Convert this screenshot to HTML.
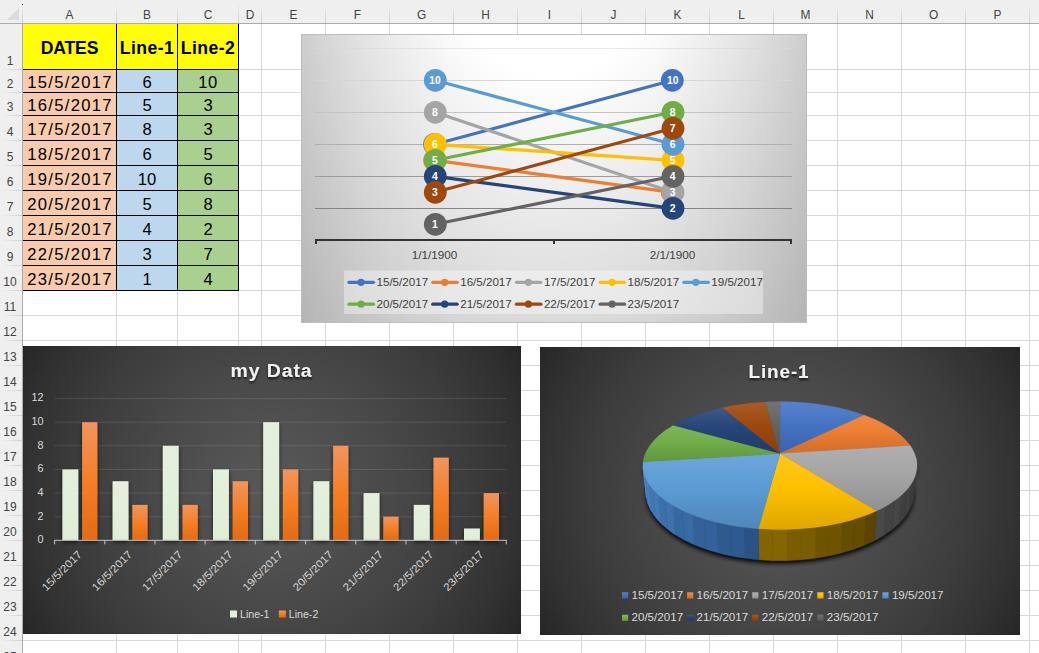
<!DOCTYPE html>
<html><head><meta charset="utf-8"><title>sheet</title><style>
html,body{margin:0;padding:0;background:#fff;}
body{width:1039px;height:653px;overflow:hidden;position:relative;font-family:"Liberation Sans", sans-serif;}
.abs{position:absolute;}
.cell{position:absolute;box-sizing:border-box;text-align:center;white-space:nowrap;overflow:hidden;color:#000;}
svg{position:absolute;left:0;top:0;}
svg text{font-family:"Liberation Sans", sans-serif;}
</style></head><body>
<svg width="1039" height="653" viewBox="0 0 1039 653" shape-rendering="crispEdges">
<defs><linearGradient id="hsep" x1="0" y1="0" x2="0" y2="1"><stop offset="0" stop-color="#efefef"/><stop offset="1" stop-color="#cfcfcf"/></linearGradient>
<linearGradient id="rsep" x1="0" y1="0" x2="1" y2="0"><stop offset="0" stop-color="#efefef"/><stop offset="1" stop-color="#cfcfcf"/></linearGradient></defs>
<rect x="0" y="0" width="1039" height="653" fill="#fff"/>
<rect x="116" y="24" width="1" height="629" fill="#d9d9d9"/>
<rect x="177" y="24" width="1" height="629" fill="#d9d9d9"/>
<rect x="238" y="24" width="1" height="629" fill="#d9d9d9"/>
<rect x="261" y="24" width="1" height="629" fill="#d9d9d9"/>
<rect x="325" y="24" width="1" height="629" fill="#d9d9d9"/>
<rect x="389" y="24" width="1" height="629" fill="#d9d9d9"/>
<rect x="453" y="24" width="1" height="629" fill="#d9d9d9"/>
<rect x="517" y="24" width="1" height="629" fill="#d9d9d9"/>
<rect x="581" y="24" width="1" height="629" fill="#d9d9d9"/>
<rect x="645" y="24" width="1" height="629" fill="#d9d9d9"/>
<rect x="709" y="24" width="1" height="629" fill="#d9d9d9"/>
<rect x="773" y="24" width="1" height="629" fill="#d9d9d9"/>
<rect x="837" y="24" width="1" height="629" fill="#d9d9d9"/>
<rect x="901" y="24" width="1" height="629" fill="#d9d9d9"/>
<rect x="965" y="24" width="1" height="629" fill="#d9d9d9"/>
<rect x="1029" y="24" width="1" height="629" fill="#d9d9d9"/>
<rect x="23" y="69" width="1016" height="1" fill="#d9d9d9"/>
<rect x="23" y="92" width="1016" height="1" fill="#d9d9d9"/>
<rect x="23" y="115" width="1016" height="1" fill="#d9d9d9"/>
<rect x="23" y="140" width="1016" height="1" fill="#d9d9d9"/>
<rect x="23" y="165" width="1016" height="1" fill="#d9d9d9"/>
<rect x="23" y="190" width="1016" height="1" fill="#d9d9d9"/>
<rect x="23" y="215" width="1016" height="1" fill="#d9d9d9"/>
<rect x="23" y="240" width="1016" height="1" fill="#d9d9d9"/>
<rect x="23" y="265" width="1016" height="1" fill="#d9d9d9"/>
<rect x="23" y="290" width="1016" height="1" fill="#d9d9d9"/>
<rect x="23" y="315" width="1016" height="1" fill="#d9d9d9"/>
<rect x="23" y="340" width="1016" height="1" fill="#d9d9d9"/>
<rect x="23" y="365" width="1016" height="1" fill="#d9d9d9"/>
<rect x="23" y="390" width="1016" height="1" fill="#d9d9d9"/>
<rect x="23" y="415" width="1016" height="1" fill="#d9d9d9"/>
<rect x="23" y="440" width="1016" height="1" fill="#d9d9d9"/>
<rect x="23" y="465" width="1016" height="1" fill="#d9d9d9"/>
<rect x="23" y="490" width="1016" height="1" fill="#d9d9d9"/>
<rect x="23" y="515" width="1016" height="1" fill="#d9d9d9"/>
<rect x="23" y="540" width="1016" height="1" fill="#d9d9d9"/>
<rect x="23" y="565" width="1016" height="1" fill="#d9d9d9"/>
<rect x="23" y="590" width="1016" height="1" fill="#d9d9d9"/>
<rect x="23" y="615" width="1016" height="1" fill="#d9d9d9"/>
<rect x="23" y="640" width="1016" height="1" fill="#d9d9d9"/>
<rect x="0" y="0" width="1039" height="23" fill="#efefef"/>
<rect x="0" y="23" width="22" height="630" fill="#efefef"/>
<rect x="116" y="3" width="1" height="20" fill="url(#hsep)"/>
<rect x="177" y="3" width="1" height="20" fill="url(#hsep)"/>
<rect x="238" y="3" width="1" height="20" fill="url(#hsep)"/>
<rect x="261" y="3" width="1" height="20" fill="url(#hsep)"/>
<rect x="325" y="3" width="1" height="20" fill="url(#hsep)"/>
<rect x="389" y="3" width="1" height="20" fill="url(#hsep)"/>
<rect x="453" y="3" width="1" height="20" fill="url(#hsep)"/>
<rect x="517" y="3" width="1" height="20" fill="url(#hsep)"/>
<rect x="581" y="3" width="1" height="20" fill="url(#hsep)"/>
<rect x="645" y="3" width="1" height="20" fill="url(#hsep)"/>
<rect x="709" y="3" width="1" height="20" fill="url(#hsep)"/>
<rect x="773" y="3" width="1" height="20" fill="url(#hsep)"/>
<rect x="837" y="3" width="1" height="20" fill="url(#hsep)"/>
<rect x="901" y="3" width="1" height="20" fill="url(#hsep)"/>
<rect x="965" y="3" width="1" height="20" fill="url(#hsep)"/>
<rect x="1029" y="3" width="1" height="20" fill="url(#hsep)"/>
<rect x="2" y="69" width="20" height="1" fill="url(#rsep)"/>
<rect x="2" y="92" width="20" height="1" fill="url(#rsep)"/>
<rect x="2" y="115" width="20" height="1" fill="url(#rsep)"/>
<rect x="2" y="140" width="20" height="1" fill="url(#rsep)"/>
<rect x="2" y="165" width="20" height="1" fill="url(#rsep)"/>
<rect x="2" y="190" width="20" height="1" fill="url(#rsep)"/>
<rect x="2" y="215" width="20" height="1" fill="url(#rsep)"/>
<rect x="2" y="240" width="20" height="1" fill="url(#rsep)"/>
<rect x="2" y="265" width="20" height="1" fill="url(#rsep)"/>
<rect x="2" y="290" width="20" height="1" fill="url(#rsep)"/>
<rect x="2" y="315" width="20" height="1" fill="url(#rsep)"/>
<rect x="2" y="340" width="20" height="1" fill="url(#rsep)"/>
<rect x="2" y="365" width="20" height="1" fill="url(#rsep)"/>
<rect x="2" y="390" width="20" height="1" fill="url(#rsep)"/>
<rect x="2" y="415" width="20" height="1" fill="url(#rsep)"/>
<rect x="2" y="440" width="20" height="1" fill="url(#rsep)"/>
<rect x="2" y="465" width="20" height="1" fill="url(#rsep)"/>
<rect x="2" y="490" width="20" height="1" fill="url(#rsep)"/>
<rect x="2" y="515" width="20" height="1" fill="url(#rsep)"/>
<rect x="2" y="540" width="20" height="1" fill="url(#rsep)"/>
<rect x="2" y="565" width="20" height="1" fill="url(#rsep)"/>
<rect x="2" y="590" width="20" height="1" fill="url(#rsep)"/>
<rect x="2" y="615" width="20" height="1" fill="url(#rsep)"/>
<rect x="2" y="640" width="20" height="1" fill="url(#rsep)"/>
<rect x="0" y="23" width="1039" height="1" fill="#ababab"/>
<rect x="22" y="3" width="1" height="20" fill="url(#hsep)"/>
<rect x="22" y="23" width="1" height="630" fill="#ababab"/>
<polygon points="19,8 19,20 7,20" fill="#dcdcdc" shape-rendering="geometricPrecision"/>
<rect x="22" y="4" width="1" height="1" fill="#000"/>
</svg>
<svg width="1039" height="653" viewBox="0 0 1039 653">
<text x="69.5" y="18.8" font-size="11.9" fill="#444" text-anchor="middle">A</text>
<text x="147.0" y="18.8" font-size="11.9" fill="#444" text-anchor="middle">B</text>
<text x="208.0" y="18.8" font-size="11.9" fill="#444" text-anchor="middle">C</text>
<text x="250.0" y="18.8" font-size="11.9" fill="#444" text-anchor="middle">D</text>
<text x="293.5" y="18.8" font-size="11.9" fill="#444" text-anchor="middle">E</text>
<text x="357.5" y="18.8" font-size="11.9" fill="#444" text-anchor="middle">F</text>
<text x="421.5" y="18.8" font-size="11.9" fill="#444" text-anchor="middle">G</text>
<text x="485.5" y="18.8" font-size="11.9" fill="#444" text-anchor="middle">H</text>
<text x="549.5" y="18.8" font-size="11.9" fill="#444" text-anchor="middle">I</text>
<text x="613.5" y="18.8" font-size="11.9" fill="#444" text-anchor="middle">J</text>
<text x="677.5" y="18.8" font-size="11.9" fill="#444" text-anchor="middle">K</text>
<text x="741.5" y="18.8" font-size="11.9" fill="#444" text-anchor="middle">L</text>
<text x="805.5" y="18.8" font-size="11.9" fill="#444" text-anchor="middle">M</text>
<text x="869.5" y="18.8" font-size="11.9" fill="#444" text-anchor="middle">N</text>
<text x="933.5" y="18.8" font-size="11.9" fill="#444" text-anchor="middle">O</text>
<text x="997.5" y="18.8" font-size="11.9" fill="#444" text-anchor="middle">P</text>
<text x="10" y="64.6" font-size="12" fill="#444" text-anchor="middle">1</text>
<text x="10" y="87.6" font-size="12" fill="#444" text-anchor="middle">2</text>
<text x="10" y="110.6" font-size="12" fill="#444" text-anchor="middle">3</text>
<text x="10" y="135.6" font-size="12" fill="#444" text-anchor="middle">4</text>
<text x="10" y="160.6" font-size="12" fill="#444" text-anchor="middle">5</text>
<text x="10" y="185.6" font-size="12" fill="#444" text-anchor="middle">6</text>
<text x="10" y="210.6" font-size="12" fill="#444" text-anchor="middle">7</text>
<text x="10" y="235.6" font-size="12" fill="#444" text-anchor="middle">8</text>
<text x="10" y="260.6" font-size="12" fill="#444" text-anchor="middle">9</text>
<text x="10" y="285.6" font-size="12" fill="#444" text-anchor="middle">10</text>
<text x="10" y="310.6" font-size="12" fill="#444" text-anchor="middle">11</text>
<text x="10" y="335.6" font-size="12" fill="#444" text-anchor="middle">12</text>
<text x="10" y="360.6" font-size="12" fill="#444" text-anchor="middle">13</text>
<text x="10" y="385.6" font-size="12" fill="#444" text-anchor="middle">14</text>
<text x="10" y="410.6" font-size="12" fill="#444" text-anchor="middle">15</text>
<text x="10" y="435.6" font-size="12" fill="#444" text-anchor="middle">16</text>
<text x="10" y="460.6" font-size="12" fill="#444" text-anchor="middle">17</text>
<text x="10" y="485.6" font-size="12" fill="#444" text-anchor="middle">18</text>
<text x="10" y="510.6" font-size="12" fill="#444" text-anchor="middle">19</text>
<text x="10" y="535.6" font-size="12" fill="#444" text-anchor="middle">20</text>
<text x="10" y="560.6" font-size="12" fill="#444" text-anchor="middle">21</text>
<text x="10" y="585.6" font-size="12" fill="#444" text-anchor="middle">22</text>
<text x="10" y="610.6" font-size="12" fill="#444" text-anchor="middle">23</text>
<text x="10" y="635.6" font-size="12" fill="#444" text-anchor="middle">24</text>
<text x="10" y="660.6" font-size="12" fill="#444" text-anchor="middle">25</text>
</svg>
<div class="abs" style="left:23px;top:24px;width:216px;height:46px;background:#ffff00"></div>
<div class="abs" style="left:23px;top:70px;width:94px;height:221px;background:#f8cbad"></div>
<div class="abs" style="left:117px;top:70px;width:61px;height:221px;background:#bdd7ee"></div>
<div class="abs" style="left:178px;top:70px;width:61px;height:221px;background:#a9d08e"></div>
<div class="abs" style="left:116px;top:24px;width:1px;height:267px;background:#000"></div>
<div class="abs" style="left:177px;top:24px;width:1px;height:267px;background:#000"></div>
<div class="abs" style="left:238px;top:24px;width:1px;height:267px;background:#000"></div>
<div class="abs" style="left:23px;top:69px;width:216px;height:1px;background:#000"></div>
<div class="abs" style="left:23px;top:92px;width:216px;height:1px;background:#000"></div>
<div class="abs" style="left:23px;top:115px;width:216px;height:1px;background:#000"></div>
<div class="abs" style="left:23px;top:140px;width:216px;height:1px;background:#000"></div>
<div class="abs" style="left:23px;top:165px;width:216px;height:1px;background:#000"></div>
<div class="abs" style="left:23px;top:190px;width:216px;height:1px;background:#000"></div>
<div class="abs" style="left:23px;top:215px;width:216px;height:1px;background:#000"></div>
<div class="abs" style="left:23px;top:240px;width:216px;height:1px;background:#000"></div>
<div class="abs" style="left:23px;top:265px;width:216px;height:1px;background:#000"></div>
<div class="abs" style="left:23px;top:290px;width:216px;height:1px;background:#000"></div>
<div class="cell" style="left:23px;top:24px;width:93px;height:45px;line-height:45px;font-weight:bold;font-size:17.6px;padding-top:2px;letter-spacing:-0.15px;">DATES</div>
<div class="cell" style="left:117px;top:24px;width:60px;height:45px;line-height:45px;font-weight:bold;font-size:17.6px;padding-top:2px;letter-spacing:0.45px;">Line-1</div>
<div class="cell" style="left:178px;top:24px;width:60px;height:45px;line-height:45px;font-weight:bold;font-size:17.6px;padding-top:2px;letter-spacing:0.45px;">Line-2</div>
<div class="cell" style="left:23px;top:70px;width:93px;height:22px;line-height:22px;font-size:16.6px;padding-top:2.0px;letter-spacing:1.3px;padding-left:1px;">15/5/2017</div>
<div class="cell" style="left:117px;top:70px;width:60px;height:22px;line-height:22px;font-size:16.6px;padding-top:2.0px;">6</div>
<div class="cell" style="left:178px;top:70px;width:60px;height:22px;line-height:22px;font-size:16.6px;padding-top:2.0px;letter-spacing:0.6px;">10</div>
<div class="cell" style="left:23px;top:93px;width:93px;height:22px;line-height:22px;font-size:16.6px;padding-top:2.0px;letter-spacing:1.3px;padding-left:1px;">16/5/2017</div>
<div class="cell" style="left:117px;top:93px;width:60px;height:22px;line-height:22px;font-size:16.6px;padding-top:2.0px;">5</div>
<div class="cell" style="left:178px;top:93px;width:60px;height:22px;line-height:22px;font-size:16.6px;padding-top:2.0px;">3</div>
<div class="cell" style="left:23px;top:116px;width:93px;height:24px;line-height:24px;font-size:16.6px;padding-top:2.0px;letter-spacing:1.3px;padding-left:1px;">17/5/2017</div>
<div class="cell" style="left:117px;top:116px;width:60px;height:24px;line-height:24px;font-size:16.6px;padding-top:2.0px;">8</div>
<div class="cell" style="left:178px;top:116px;width:60px;height:24px;line-height:24px;font-size:16.6px;padding-top:2.0px;">3</div>
<div class="cell" style="left:23px;top:141px;width:93px;height:24px;line-height:24px;font-size:16.6px;padding-top:2.0px;letter-spacing:1.3px;padding-left:1px;">18/5/2017</div>
<div class="cell" style="left:117px;top:141px;width:60px;height:24px;line-height:24px;font-size:16.6px;padding-top:2.0px;">6</div>
<div class="cell" style="left:178px;top:141px;width:60px;height:24px;line-height:24px;font-size:16.6px;padding-top:2.0px;">5</div>
<div class="cell" style="left:23px;top:166px;width:93px;height:24px;line-height:24px;font-size:16.6px;padding-top:2.0px;letter-spacing:1.3px;padding-left:1px;">19/5/2017</div>
<div class="cell" style="left:117px;top:166px;width:60px;height:24px;line-height:24px;font-size:16.6px;padding-top:2.0px;">10</div>
<div class="cell" style="left:178px;top:166px;width:60px;height:24px;line-height:24px;font-size:16.6px;padding-top:2.0px;">6</div>
<div class="cell" style="left:23px;top:191px;width:93px;height:24px;line-height:24px;font-size:16.6px;padding-top:2.0px;letter-spacing:1.3px;padding-left:1px;">20/5/2017</div>
<div class="cell" style="left:117px;top:191px;width:60px;height:24px;line-height:24px;font-size:16.6px;padding-top:2.0px;">5</div>
<div class="cell" style="left:178px;top:191px;width:60px;height:24px;line-height:24px;font-size:16.6px;padding-top:2.0px;">8</div>
<div class="cell" style="left:23px;top:216px;width:93px;height:24px;line-height:24px;font-size:16.6px;padding-top:2.0px;letter-spacing:1.3px;padding-left:1px;">21/5/2017</div>
<div class="cell" style="left:117px;top:216px;width:60px;height:24px;line-height:24px;font-size:16.6px;padding-top:2.0px;">4</div>
<div class="cell" style="left:178px;top:216px;width:60px;height:24px;line-height:24px;font-size:16.6px;padding-top:2.0px;">2</div>
<div class="cell" style="left:23px;top:241px;width:93px;height:24px;line-height:24px;font-size:16.6px;padding-top:2.0px;letter-spacing:1.3px;padding-left:1px;">22/5/2017</div>
<div class="cell" style="left:117px;top:241px;width:60px;height:24px;line-height:24px;font-size:16.6px;padding-top:2.0px;">3</div>
<div class="cell" style="left:178px;top:241px;width:60px;height:24px;line-height:24px;font-size:16.6px;padding-top:2.0px;">7</div>
<div class="cell" style="left:23px;top:266px;width:93px;height:24px;line-height:24px;font-size:16.6px;padding-top:2.0px;letter-spacing:1.3px;padding-left:1px;">23/5/2017</div>
<div class="cell" style="left:117px;top:266px;width:60px;height:24px;line-height:24px;font-size:16.6px;padding-top:2.0px;">1</div>
<div class="cell" style="left:178px;top:266px;width:60px;height:24px;line-height:24px;font-size:16.6px;padding-top:2.0px;">4</div>
<div class="abs" style="left:301px;top:34px;width:506px;height:289px;box-sizing:border-box;border:1px solid #bdbdbd;background:linear-gradient(to right,rgba(0,0,0,0.06) 0%,rgba(0,0,0,0.025) 12%,rgba(0,0,0,0) 30%,rgba(0,0,0,0) 70%,rgba(0,0,0,0.025) 88%,rgba(0,0,0,0.06) 100%),radial-gradient(ellipse 381px 695px at 50% -231px,#fff 0%,#fff 39%,#bfbfbf 100%)"></div>
<div class="abs" style="left:23px;top:346px;width:498px;height:288px;background:radial-gradient(circle farthest-corner at 50% 50%,#595959 0.0%,#565656 8.3%,#535353 16.7%,#505050 25.0%,#4c4c4c 33.3%,#494949 41.7%,#454545 50.0%,#414141 58.3%,#3d3d3d 66.7%,#383838 75.0%,#333333 83.3%,#2d2d2d 91.7%,#262626 100.0%)"></div>
<div class="abs" style="left:540px;top:347px;width:480px;height:288px;background:radial-gradient(circle farthest-corner at 50% 50%,#595959 0.0%,#565656 8.3%,#535353 16.7%,#505050 25.0%,#4c4c4c 33.3%,#494949 41.7%,#454545 50.0%,#414141 58.3%,#3d3d3d 66.7%,#383838 75.0%,#333333 83.3%,#2d2d2d 91.7%,#262626 100.0%)"></div>
<svg width="1039" height="653" viewBox="0 0 1039 653">
<defs>
<filter id="sh" x="-30%" y="-30%" width="160%" height="160%"><feGaussianBlur in="SourceAlpha" stdDeviation="2.2"/><feOffset dx="0" dy="2" result="o"/><feComponentTransfer><feFuncA type="linear" slope="0.63"/></feComponentTransfer><feMerge><feMergeNode/><feMergeNode in="SourceGraphic"/></feMerge></filter>
<filter id="tsh" x="-10%" y="-30%" width="120%" height="180%"><feGaussianBlur in="SourceAlpha" stdDeviation="1.2"/><feOffset dx="0" dy="1.5"/><feComponentTransfer><feFuncA type="linear" slope="0.7"/></feComponentTransfer><feMerge><feMergeNode/><feMergeNode in="SourceGraphic"/></feMerge></filter>
<linearGradient id="gL2" x1="0" y1="0" x2="0" y2="1"><stop offset="0" stop-color="#f1955e"/><stop offset="0.5" stop-color="#f57e26"/><stop offset="1" stop-color="#e26b12"/></linearGradient>
<linearGradient id="gL1" x1="0" y1="0" x2="0" y2="1"><stop offset="0" stop-color="#e4f0dd"/><stop offset="0.5" stop-color="#e2efda"/><stop offset="1" stop-color="#dfedd6"/></linearGradient>
</defs>
<rect x="315" y="48" width="477" height="1" fill="#d9d9d9" fill-opacity="0.6" shape-rendering="crispEdges"/>
<rect x="315" y="80" width="477" height="1" fill="#d6d6d6" shape-rendering="crispEdges"/>
<rect x="315" y="112" width="477" height="1" fill="#c4c4c4" shape-rendering="crispEdges"/>
<rect x="315" y="144" width="477" height="1" fill="#b0b0b0" shape-rendering="crispEdges"/>
<rect x="315" y="176" width="477" height="1" fill="#9c9c9c" shape-rendering="crispEdges"/>
<rect x="315" y="208" width="477" height="1" fill="#858585" shape-rendering="crispEdges"/>
<line x1="435.0" y1="144.3" x2="672.7" y2="80.3" stroke="#4472c4" stroke-width="3.2" stroke-linecap="round"/>
<circle cx="434.6" cy="144.3" r="11.4" fill="#4472c4"/>
<text x="435.0" y="148.1" font-size="10.4" font-weight="bold" fill="#fff" text-anchor="middle">6</text>
<circle cx="672.3" cy="80.3" r="11.4" fill="#4472c4"/>
<text x="672.7" y="84.1" font-size="10.4" font-weight="bold" fill="#fff" text-anchor="middle" textLength="11.4" lengthAdjust="spacingAndGlyphs">10</text>
<line x1="435.0" y1="160.3" x2="672.7" y2="192.3" stroke="#ed7d31" stroke-width="3.2" stroke-linecap="round"/>
<circle cx="434.6" cy="160.3" r="11.4" fill="#ed7d31"/>
<text x="435.0" y="164.1" font-size="10.4" font-weight="bold" fill="#fff" text-anchor="middle">5</text>
<circle cx="672.3" cy="192.3" r="11.4" fill="#ed7d31"/>
<text x="672.7" y="196.1" font-size="10.4" font-weight="bold" fill="#fff" text-anchor="middle">3</text>
<line x1="435.0" y1="112.3" x2="672.7" y2="192.3" stroke="#a5a5a5" stroke-width="3.2" stroke-linecap="round"/>
<circle cx="435.3" cy="112.3" r="11.4" fill="#a5a5a5"/>
<text x="435.0" y="116.1" font-size="10.4" font-weight="bold" fill="#fff" text-anchor="middle">8</text>
<circle cx="673.0" cy="192.3" r="11.4" fill="#a5a5a5"/>
<text x="672.7" y="196.1" font-size="10.4" font-weight="bold" fill="#fff" text-anchor="middle">3</text>
<line x1="435.0" y1="144.3" x2="672.7" y2="160.3" stroke="#ffc000" stroke-width="3.2" stroke-linecap="round"/>
<circle cx="435.3" cy="144.3" r="11.4" fill="#ffc000"/>
<text x="435.0" y="148.1" font-size="10.4" font-weight="bold" fill="#fff" text-anchor="middle">6</text>
<circle cx="673.0" cy="160.3" r="11.4" fill="#ffc000"/>
<text x="672.7" y="164.1" font-size="10.4" font-weight="bold" fill="#fff" text-anchor="middle">5</text>
<line x1="435.0" y1="80.3" x2="672.7" y2="144.3" stroke="#5b9bd5" stroke-width="3.2" stroke-linecap="round"/>
<circle cx="435.3" cy="80.3" r="11.4" fill="#5b9bd5"/>
<text x="435.0" y="84.1" font-size="10.4" font-weight="bold" fill="#fff" text-anchor="middle" textLength="11.4" lengthAdjust="spacingAndGlyphs">10</text>
<circle cx="673.0" cy="144.3" r="11.4" fill="#5b9bd5"/>
<text x="672.7" y="148.1" font-size="10.4" font-weight="bold" fill="#fff" text-anchor="middle">6</text>
<line x1="435.0" y1="160.3" x2="672.7" y2="112.3" stroke="#70ad47" stroke-width="3.2" stroke-linecap="round"/>
<circle cx="435.3" cy="160.3" r="11.4" fill="#70ad47"/>
<text x="435.0" y="164.1" font-size="10.4" font-weight="bold" fill="#fff" text-anchor="middle">5</text>
<circle cx="673.0" cy="112.3" r="11.4" fill="#70ad47"/>
<text x="672.7" y="116.1" font-size="10.4" font-weight="bold" fill="#fff" text-anchor="middle">8</text>
<line x1="435.0" y1="176.3" x2="672.7" y2="208.3" stroke="#264478" stroke-width="3.2" stroke-linecap="round"/>
<circle cx="435.3" cy="176.3" r="11.4" fill="#264478"/>
<text x="435.0" y="180.1" font-size="10.4" font-weight="bold" fill="#fff" text-anchor="middle">4</text>
<circle cx="673.0" cy="208.3" r="11.4" fill="#264478"/>
<text x="672.7" y="212.1" font-size="10.4" font-weight="bold" fill="#fff" text-anchor="middle">2</text>
<line x1="435.0" y1="192.3" x2="672.7" y2="128.3" stroke="#9e480e" stroke-width="3.2" stroke-linecap="round"/>
<circle cx="435.3" cy="192.3" r="11.4" fill="#9e480e"/>
<text x="435.0" y="196.1" font-size="10.4" font-weight="bold" fill="#fff" text-anchor="middle">3</text>
<circle cx="673.0" cy="128.3" r="11.4" fill="#9e480e"/>
<text x="672.7" y="132.1" font-size="10.4" font-weight="bold" fill="#fff" text-anchor="middle">7</text>
<line x1="435.0" y1="224.3" x2="672.7" y2="176.3" stroke="#636363" stroke-width="3.2" stroke-linecap="round"/>
<circle cx="435.3" cy="224.3" r="11.4" fill="#636363"/>
<text x="435.0" y="228.1" font-size="10.4" font-weight="bold" fill="#fff" text-anchor="middle">1</text>
<circle cx="673.0" cy="176.3" r="11.4" fill="#636363"/>
<text x="672.7" y="180.1" font-size="10.4" font-weight="bold" fill="#fff" text-anchor="middle">4</text>
<g shape-rendering="crispEdges" fill="#333333"><rect x="315" y="239" width="477" height="2"/><rect x="315" y="239" width="2" height="5"/><rect x="553" y="239" width="2" height="5"/><rect x="790" y="239" width="2" height="5"/></g>
<text x="434.6" y="259" font-size="10.8" fill="#404040" text-anchor="middle" textLength="45.5" lengthAdjust="spacingAndGlyphs">1/1/1900</text>
<text x="672.5" y="259" font-size="10.8" fill="#404040" text-anchor="middle" textLength="45.5" lengthAdjust="spacingAndGlyphs">2/1/1900</text>
<rect x="344" y="270.5" width="419" height="43.5" fill="#ffffff" fill-opacity="0.39"/>
<line x1="349.0" y1="282.3" x2="373.5" y2="282.3" stroke="#4472c4" stroke-width="3.2" stroke-linecap="round"/>
<circle cx="361.0" cy="282.3" r="3.6" fill="#4472c4"/>
<text x="376.5" y="285.5" font-size="10.8" fill="#404040" textLength="51.6" lengthAdjust="spacingAndGlyphs">15/5/2017</text>
<line x1="432.7" y1="282.3" x2="457.2" y2="282.3" stroke="#ed7d31" stroke-width="3.2" stroke-linecap="round"/>
<circle cx="444.7" cy="282.3" r="3.6" fill="#ed7d31"/>
<text x="460.2" y="285.5" font-size="10.8" fill="#404040" textLength="51.6" lengthAdjust="spacingAndGlyphs">16/5/2017</text>
<line x1="516.4" y1="282.3" x2="540.9" y2="282.3" stroke="#a5a5a5" stroke-width="3.2" stroke-linecap="round"/>
<circle cx="528.4" cy="282.3" r="3.6" fill="#a5a5a5"/>
<text x="543.9" y="285.5" font-size="10.8" fill="#404040" textLength="51.6" lengthAdjust="spacingAndGlyphs">17/5/2017</text>
<line x1="600.1" y1="282.3" x2="624.6" y2="282.3" stroke="#ffc000" stroke-width="3.2" stroke-linecap="round"/>
<circle cx="612.1" cy="282.3" r="3.6" fill="#ffc000"/>
<text x="627.6" y="285.5" font-size="10.8" fill="#404040" textLength="51.6" lengthAdjust="spacingAndGlyphs">18/5/2017</text>
<line x1="683.8" y1="282.3" x2="708.3" y2="282.3" stroke="#5b9bd5" stroke-width="3.2" stroke-linecap="round"/>
<circle cx="695.8" cy="282.3" r="3.6" fill="#5b9bd5"/>
<text x="711.3" y="285.5" font-size="10.8" fill="#404040" textLength="51.6" lengthAdjust="spacingAndGlyphs">19/5/2017</text>
<line x1="349.0" y1="304.2" x2="373.5" y2="304.2" stroke="#70ad47" stroke-width="3.2" stroke-linecap="round"/>
<circle cx="361.0" cy="304.2" r="3.6" fill="#70ad47"/>
<text x="376.5" y="308.0" font-size="10.8" fill="#404040" textLength="51.6" lengthAdjust="spacingAndGlyphs">20/5/2017</text>
<line x1="432.7" y1="304.2" x2="457.2" y2="304.2" stroke="#264478" stroke-width="3.2" stroke-linecap="round"/>
<circle cx="444.7" cy="304.2" r="3.6" fill="#264478"/>
<text x="460.2" y="308.0" font-size="10.8" fill="#404040" textLength="51.6" lengthAdjust="spacingAndGlyphs">21/5/2017</text>
<line x1="516.4" y1="304.2" x2="540.9" y2="304.2" stroke="#9e480e" stroke-width="3.2" stroke-linecap="round"/>
<circle cx="528.4" cy="304.2" r="3.6" fill="#9e480e"/>
<text x="543.9" y="308.0" font-size="10.8" fill="#404040" textLength="51.6" lengthAdjust="spacingAndGlyphs">22/5/2017</text>
<line x1="600.1" y1="304.2" x2="624.6" y2="304.2" stroke="#636363" stroke-width="3.2" stroke-linecap="round"/>
<circle cx="612.1" cy="304.2" r="3.6" fill="#636363"/>
<text x="627.6" y="308.0" font-size="10.8" fill="#404040" textLength="51.6" lengthAdjust="spacingAndGlyphs">23/5/2017</text>
<rect x="54.5" y="516.2" width="452" height="1" fill="#ffffff" fill-opacity="0.11"/>
<rect x="54.5" y="492.6" width="452" height="1" fill="#ffffff" fill-opacity="0.11"/>
<rect x="54.5" y="468.9" width="452" height="1" fill="#ffffff" fill-opacity="0.11"/>
<rect x="54.5" y="445.3" width="452" height="1" fill="#ffffff" fill-opacity="0.11"/>
<rect x="54.5" y="421.7" width="452" height="1" fill="#ffffff" fill-opacity="0.11"/>
<rect x="54.5" y="398.1" width="452" height="1" fill="#ffffff" fill-opacity="0.11"/>
<g filter="url(#sh)">
<rect x="62.4" y="469.4" width="15.9" height="70.9" fill="url(#gL1)"/>
<rect x="82.1" y="422.2" width="15.3" height="118.1" fill="url(#gL2)"/>
<rect x="112.6" y="481.2" width="15.9" height="59.1" fill="url(#gL1)"/>
<rect x="132.3" y="504.9" width="15.3" height="35.4" fill="url(#gL2)"/>
<rect x="162.8" y="445.8" width="15.9" height="94.5" fill="url(#gL1)"/>
<rect x="182.5" y="504.9" width="15.3" height="35.4" fill="url(#gL2)"/>
<rect x="213.0" y="469.4" width="15.9" height="70.9" fill="url(#gL1)"/>
<rect x="232.7" y="481.2" width="15.3" height="59.1" fill="url(#gL2)"/>
<rect x="263.2" y="422.2" width="15.9" height="118.1" fill="url(#gL1)"/>
<rect x="282.9" y="469.4" width="15.3" height="70.9" fill="url(#gL2)"/>
<rect x="313.4" y="481.2" width="15.9" height="59.1" fill="url(#gL1)"/>
<rect x="333.1" y="445.8" width="15.3" height="94.5" fill="url(#gL2)"/>
<rect x="363.6" y="493.1" width="15.9" height="47.2" fill="url(#gL1)"/>
<rect x="383.3" y="516.7" width="15.3" height="23.6" fill="url(#gL2)"/>
<rect x="413.8" y="504.9" width="15.9" height="35.4" fill="url(#gL1)"/>
<rect x="433.5" y="457.6" width="15.3" height="82.7" fill="url(#gL2)"/>
<rect x="464.0" y="528.5" width="15.9" height="11.8" fill="url(#gL1)"/>
<rect x="483.7" y="493.1" width="15.3" height="47.2" fill="url(#gL2)"/>
</g>
<rect x="54.5" y="539.8" width="452.5" height="1.1" fill="#b5b5b5"/>
<rect x="54.0" y="540" width="1.1" height="4.4" fill="#b5b5b5"/>
<rect x="104.2" y="540" width="1.1" height="4.4" fill="#b5b5b5"/>
<rect x="154.4" y="540" width="1.1" height="4.4" fill="#b5b5b5"/>
<rect x="204.6" y="540" width="1.1" height="4.4" fill="#b5b5b5"/>
<rect x="254.8" y="540" width="1.1" height="4.4" fill="#b5b5b5"/>
<rect x="305.0" y="540" width="1.1" height="4.4" fill="#b5b5b5"/>
<rect x="355.2" y="540" width="1.1" height="4.4" fill="#b5b5b5"/>
<rect x="405.4" y="540" width="1.1" height="4.4" fill="#b5b5b5"/>
<rect x="455.6" y="540" width="1.1" height="4.4" fill="#b5b5b5"/>
<rect x="505.8" y="540" width="1.1" height="4.4" fill="#b5b5b5"/>
<text x="43.6" y="543.1" font-size="10.8" fill="#d9d9d9" text-anchor="end">0</text>
<text x="43.6" y="519.5" font-size="10.8" fill="#d9d9d9" text-anchor="end">2</text>
<text x="43.6" y="495.9" font-size="10.8" fill="#d9d9d9" text-anchor="end">4</text>
<text x="43.6" y="472.2" font-size="10.8" fill="#d9d9d9" text-anchor="end">6</text>
<text x="43.6" y="448.6" font-size="10.8" fill="#d9d9d9" text-anchor="end">8</text>
<text x="43.6" y="425.0" font-size="10.8" fill="#d9d9d9" text-anchor="end">10</text>
<text x="43.6" y="401.4" font-size="10.8" fill="#d9d9d9" text-anchor="end">12</text>
<text transform="translate(77.0,549.5) rotate(-45)" x="0" y="0" font-size="10.8" fill="#d9d9d9" text-anchor="end" dominant-baseline="hanging" textLength="51.6" lengthAdjust="spacingAndGlyphs">15/5/2017</text>
<text transform="translate(127.2,549.5) rotate(-45)" x="0" y="0" font-size="10.8" fill="#d9d9d9" text-anchor="end" dominant-baseline="hanging" textLength="51.6" lengthAdjust="spacingAndGlyphs">16/5/2017</text>
<text transform="translate(177.4,549.5) rotate(-45)" x="0" y="0" font-size="10.8" fill="#d9d9d9" text-anchor="end" dominant-baseline="hanging" textLength="51.6" lengthAdjust="spacingAndGlyphs">17/5/2017</text>
<text transform="translate(227.6,549.5) rotate(-45)" x="0" y="0" font-size="10.8" fill="#d9d9d9" text-anchor="end" dominant-baseline="hanging" textLength="51.6" lengthAdjust="spacingAndGlyphs">18/5/2017</text>
<text transform="translate(277.8,549.5) rotate(-45)" x="0" y="0" font-size="10.8" fill="#d9d9d9" text-anchor="end" dominant-baseline="hanging" textLength="51.6" lengthAdjust="spacingAndGlyphs">19/5/2017</text>
<text transform="translate(328.0,549.5) rotate(-45)" x="0" y="0" font-size="10.8" fill="#d9d9d9" text-anchor="end" dominant-baseline="hanging" textLength="51.6" lengthAdjust="spacingAndGlyphs">20/5/2017</text>
<text transform="translate(378.2,549.5) rotate(-45)" x="0" y="0" font-size="10.8" fill="#d9d9d9" text-anchor="end" dominant-baseline="hanging" textLength="51.6" lengthAdjust="spacingAndGlyphs">21/5/2017</text>
<text transform="translate(428.4,549.5) rotate(-45)" x="0" y="0" font-size="10.8" fill="#d9d9d9" text-anchor="end" dominant-baseline="hanging" textLength="51.6" lengthAdjust="spacingAndGlyphs">22/5/2017</text>
<text transform="translate(478.6,549.5) rotate(-45)" x="0" y="0" font-size="10.8" fill="#d9d9d9" text-anchor="end" dominant-baseline="hanging" textLength="51.6" lengthAdjust="spacingAndGlyphs">23/5/2017</text>
<text x="271.5" y="377" font-size="17.6" font-weight="bold" fill="#f2f2f2" text-anchor="middle" textLength="82" lengthAdjust="spacingAndGlyphs" letter-spacing="0.8" filter="url(#tsh)">my Data</text>
<rect x="230" y="610.5" width="7" height="7" fill="#e2efda"/>
<text x="240" y="618" font-size="10.8" fill="#d9d9d9" textLength="29.5" lengthAdjust="spacingAndGlyphs">Line-1</text>
<rect x="278.8" y="610.5" width="7" height="7" fill="url(#gL2)"/>
<text x="288.8" y="618" font-size="10.8" fill="#d9d9d9" textLength="29.5" lengthAdjust="spacingAndGlyphs">Line-2</text>
<defs><filter id="psh" x="-10%" y="-20%" width="120%" height="140%"><feGaussianBlur stdDeviation="2.2"/></filter></defs>
<path d="M913.3,484.6 L913.9,488.2 L914.0,491.8 L913.8,495.5 L913.2,499.3 L912.2,503.0 L910.8,506.7 L909.0,510.4 L906.7,514.1 L904.0,517.8 L900.9,521.4 L897.3,525.0 L893.4,528.4 L889.0,531.8 L884.1,535.0 L878.9,538.2 L873.3,541.1 L867.2,544.0 L860.9,546.6 L854.1,549.1 L847.1,551.3 L839.7,553.3 L832.1,555.1 L824.3,556.7 L816.3,558.0 L808.1,559.0 L799.7,559.8 L791.3,560.3 L782.8,560.5 L774.3,560.5 L765.9,560.2 L757.5,559.6 L749.2,558.7 L741.0,557.6 L733.1,556.2 L725.3,554.5 L717.8,552.7 L710.5,550.6 L703.6,548.3 L697.0,545.7 L690.7,543.0 L684.8,540.2 L679.3,537.1 L674.2,534.0 L669.5,530.7 L665.3,527.3 L661.4,523.8 L658.0,520.2 L655.0,516.6 L652.5,512.9 L650.4,509.2 L648.7,505.5 L647.4,501.7 L646.5,498.0 L646.1,494.3 L646.0,490.6 L646.3,487.0 L643.7,459.0 L643.1,462.3 L642.9,465.7 L643.2,469.1 L643.8,472.6 L644.8,476.0 L646.3,479.5 L648.1,483.0 L650.4,486.4 L653.2,489.8 L656.4,493.2 L660.0,496.5 L664.1,499.7 L668.6,502.8 L673.5,505.8 L678.9,508.7 L684.6,511.5 L690.8,514.1 L697.3,516.6 L704.2,518.8 L711.4,520.9 L718.9,522.8 L726.7,524.5 L734.7,525.9 L742.9,527.1 L751.3,528.1 L759.8,528.8 L768.4,529.3 L777.1,529.5 L785.8,529.4 L794.4,529.1 L803.0,528.6 L811.5,527.8 L819.8,526.7 L828.0,525.4 L835.9,523.9 L843.6,522.2 L851.0,520.2 L858.1,518.1 L864.9,515.8 L871.3,513.2 L877.3,510.6 L882.9,507.8 L888.2,504.8 L893.0,501.8 L897.3,498.6 L901.2,495.4 L904.7,492.1 L907.8,488.7 L910.4,485.3 L912.5,481.8 L914.3,478.4 L915.6,474.9 L916.5,471.4 L917.0,468.0 L917.0,464.6 L916.7,461.2 Z" fill="#000" fill-opacity="0.95" filter="url(#psh)" transform="translate(0,3)"/>
<path d="M917.1,465.6 L917.0,467.6 L916.8,469.6 L916.4,471.5 L913.4,498.1 L913.8,496.0 L914.0,493.9 L914.0,491.7 Z" fill="#383838" stroke="#383838" stroke-width="0.6"/>
<path d="M916.4,471.5 L916.0,473.5 L915.4,475.5 L914.6,477.6 L911.7,504.6 L912.4,502.4 L913.0,500.3 L913.4,498.1 Z" fill="#3c3c3c" stroke="#3c3c3c" stroke-width="0.6"/>
<path d="M914.6,477.6 L913.7,479.6 L912.7,481.6 L911.5,483.5 L908.6,511.1 L909.8,508.9 L910.8,506.8 L911.7,504.6 Z" fill="#3b3b3b" stroke="#3b3b3b" stroke-width="0.6"/>
<path d="M911.5,483.5 L910.2,485.5 L908.7,487.5 L907.1,489.5 L904.3,517.4 L905.9,515.3 L907.3,513.2 L908.6,511.1 Z" fill="#414141" stroke="#414141" stroke-width="0.6"/>
<path d="M907.1,489.5 L905.3,491.4 L903.4,493.3 L901.4,495.3 L898.7,523.7 L900.7,521.6 L902.6,519.5 L904.3,517.4 Z" fill="#3f3f3f" stroke="#3f3f3f" stroke-width="0.6"/>
<path d="M901.4,495.3 L899.2,497.1 L896.8,499.0 L894.3,500.8 L891.8,529.7 L894.2,527.7 L896.5,525.7 L898.7,523.7 Z" fill="#454545" stroke="#454545" stroke-width="0.6"/>
<path d="M894.3,500.8 L891.7,502.6 L888.9,504.4 L885.9,506.1 L883.6,535.4 L886.5,533.5 L889.2,531.6 L891.8,529.7 Z" fill="#434343" stroke="#434343" stroke-width="0.6"/>
<path d="M885.9,506.1 L882.9,507.8 L879.7,509.4 L876.3,511.0 L874.2,540.7 L877.5,538.9 L880.6,537.2 L883.6,535.4 Z" fill="#494949" stroke="#494949" stroke-width="0.6"/>
<path d="M876.3,511.0 L873.0,512.5 L869.6,514.0 L866.0,515.3 L864.1,545.3 L867.6,543.8 L871.0,542.3 L874.2,540.7 Z" fill="#5b4400" stroke="#5b4400" stroke-width="0.6"/>
<path d="M866.0,515.3 L862.3,516.7 L858.5,518.0 L854.6,519.2 L853.0,549.4 L856.8,548.1 L860.5,546.7 L864.1,545.3 Z" fill="#644c00" stroke="#644c00" stroke-width="0.6"/>
<path d="M854.6,519.2 L850.6,520.4 L846.5,521.5 L842.4,522.5 L841.0,553.0 L845.1,551.9 L849.1,550.7 L853.0,549.4 Z" fill="#644c00" stroke="#644c00" stroke-width="0.6"/>
<path d="M842.4,522.5 L838.1,523.5 L833.8,524.4 L829.3,525.2 L828.3,555.9 L832.6,555.0 L836.8,554.1 L841.0,553.0 Z" fill="#6f5400" stroke="#6f5400" stroke-width="0.6"/>
<path d="M829.3,525.2 L824.9,526.0 L820.3,526.7 L815.7,527.3 L814.9,558.2 L819.4,557.5 L823.9,556.8 L828.3,555.9 Z" fill="#6f5400" stroke="#6f5400" stroke-width="0.6"/>
<path d="M815.7,527.3 L811.0,527.8 L806.3,528.3 L801.6,528.7 L801.1,559.7 L805.8,559.3 L810.4,558.8 L814.9,558.2 Z" fill="#7a5d00" stroke="#7a5d00" stroke-width="0.6"/>
<path d="M801.6,528.7 L796.8,529.0 L792.0,529.3 L787.2,529.4 L787.1,560.5 L791.8,560.3 L796.5,560.0 L801.1,559.7 Z" fill="#795d00" stroke="#795d00" stroke-width="0.6"/>
<path d="M787.2,529.4 L782.4,529.5 L777.6,529.5 L772.8,529.4 L772.9,560.5 L777.6,560.5 L782.4,560.5 L787.1,560.5 Z" fill="#846500" stroke="#846500" stroke-width="0.6"/>
<path d="M772.8,529.4 L768.0,529.3 L763.2,529.0 L758.4,528.7 L758.9,559.7 L763.5,560.0 L768.2,560.3 L772.9,560.5 Z" fill="#836400" stroke="#836400" stroke-width="0.6"/>
<path d="M758.4,528.7 L753.5,528.3 L748.7,527.8 L744.0,527.3 L744.8,558.1 L749.4,558.7 L754.1,559.3 L758.9,559.7 Z" fill="#2a5285" stroke="#2a5285" stroke-width="0.6"/>
<path d="M744.0,527.3 L739.3,526.6 L734.6,525.9 L730.0,525.1 L731.1,555.8 L735.6,556.7 L740.2,557.4 L744.8,558.1 Z" fill="#2f5a91" stroke="#2f5a91" stroke-width="0.6"/>
<path d="M730.0,525.1 L725.5,524.2 L721.1,523.3 L716.8,522.3 L718.2,552.8 L722.4,553.9 L726.7,554.9 L731.1,555.8 Z" fill="#2f5a8e" stroke="#2f5a8e" stroke-width="0.6"/>
<path d="M716.8,522.3 L712.5,521.2 L708.4,520.1 L704.3,518.9 L706.0,549.1 L709.9,550.4 L714.0,551.6 L718.2,552.8 Z" fill="#33629a" stroke="#33629a" stroke-width="0.6"/>
<path d="M704.3,518.9 L700.3,517.6 L696.5,516.3 L692.8,514.9 L694.7,544.8 L698.3,546.3 L702.1,547.7 L706.0,549.1 Z" fill="#346197" stroke="#346197" stroke-width="0.6"/>
<path d="M692.8,514.9 L689.2,513.4 L685.7,511.9 L682.3,510.4 L684.5,540.0 L687.8,541.6 L691.2,543.3 L694.7,544.8 Z" fill="#386aa4" stroke="#386aa4" stroke-width="0.6"/>
<path d="M682.3,510.4 L679.1,508.8 L676.0,507.2 L673.0,505.5 L675.4,534.7 L678.3,536.5 L681.3,538.3 L684.5,540.0 Z" fill="#3868a1" stroke="#3868a1" stroke-width="0.6"/>
<path d="M673.0,505.5 L670.2,503.8 L667.5,502.1 L664.9,500.3 L667.5,529.1 L670.0,531.0 L672.6,532.9 L675.4,534.7 Z" fill="#3d72ad" stroke="#3d72ad" stroke-width="0.6"/>
<path d="M664.9,500.3 L662.5,498.5 L660.2,496.6 L658.1,494.8 L660.8,523.2 L662.9,525.2 L665.1,527.1 L667.5,529.1 Z" fill="#3c70aa" stroke="#3c70aa" stroke-width="0.6"/>
<path d="M658.1,494.8 L656.1,492.9 L654.3,491.0 L652.6,489.1 L655.4,517.0 L657.0,519.1 L658.8,521.1 L660.8,523.2 Z" fill="#427ab7" stroke="#427ab7" stroke-width="0.6"/>
<path d="M652.6,489.1 L651.0,487.2 L649.6,485.2 L648.3,483.3 L651.2,510.7 L652.5,512.8 L653.8,514.9 L655.4,517.0 Z" fill="#4177b3" stroke="#4177b3" stroke-width="0.6"/>
<path d="M648.3,483.3 L647.2,481.3 L646.2,479.3 L645.3,477.4 L648.3,504.4 L649.1,506.5 L650.1,508.6 L651.2,510.7 Z" fill="#4781c1" stroke="#4781c1" stroke-width="0.6"/>
<path d="M645.3,477.4 L644.6,475.4 L644.0,473.4 L643.5,471.4 L646.5,498.0 L647.0,500.1 L647.6,502.3 L648.3,504.4 Z" fill="#457fbc" stroke="#457fbc" stroke-width="0.6"/>
<path d="M643.5,471.4 L643.2,469.5 L643.0,467.5 L642.9,465.6 L646.0,491.7 L646.0,493.8 L646.2,495.9 L646.5,498.0 Z" fill="#4c89cb" stroke="#4c89cb" stroke-width="0.6"/>
<defs>
<linearGradient id="pg0" x1="0" y1="0" x2="0" y2="1"><stop offset="0" stop-color="#5982ca"/><stop offset="0.45" stop-color="#4472c4"/><stop offset="1" stop-color="#3b63ab"/></linearGradient>
<linearGradient id="pg1" x1="0" y1="0" x2="0" y2="1"><stop offset="0" stop-color="#ef8b48"/><stop offset="0.45" stop-color="#ed7d31"/><stop offset="1" stop-color="#ce6d2b"/></linearGradient>
<linearGradient id="pg2" x1="0" y1="0" x2="0" y2="1"><stop offset="0" stop-color="#afafaf"/><stop offset="0.45" stop-color="#a5a5a5"/><stop offset="1" stop-color="#909090"/></linearGradient>
<linearGradient id="pg3" x1="0" y1="0" x2="0" y2="1"><stop offset="0" stop-color="#ffc71c"/><stop offset="0.45" stop-color="#ffc000"/><stop offset="1" stop-color="#dea700"/></linearGradient>
<linearGradient id="pg4" x1="0" y1="0" x2="0" y2="1"><stop offset="0" stop-color="#6da6da"/><stop offset="0.45" stop-color="#5b9bd5"/><stop offset="1" stop-color="#4f87b9"/></linearGradient>
<linearGradient id="pg5" x1="0" y1="0" x2="0" y2="1"><stop offset="0" stop-color="#80b65b"/><stop offset="0.45" stop-color="#70ad47"/><stop offset="1" stop-color="#61973e"/></linearGradient>
<linearGradient id="pg6" x1="0" y1="0" x2="0" y2="1"><stop offset="0" stop-color="#3e5987"/><stop offset="0.45" stop-color="#264478"/><stop offset="1" stop-color="#213b68"/></linearGradient>
<linearGradient id="pg7" x1="0" y1="0" x2="0" y2="1"><stop offset="0" stop-color="#a95c29"/><stop offset="0.45" stop-color="#9e480e"/><stop offset="1" stop-color="#893f0c"/></linearGradient>
<linearGradient id="pg8" x1="0" y1="0" x2="0" y2="1"><stop offset="0" stop-color="#747474"/><stop offset="0.45" stop-color="#636363"/><stop offset="1" stop-color="#565656"/></linearGradient>
</defs>
<path d="M780.0,453.5 L780.0,401.6 L783.9,401.6 L787.7,401.7 L791.6,401.8 L795.4,402.0 L799.3,402.2 L803.1,402.5 L806.9,402.8 L810.7,403.2 L814.5,403.7 L818.3,404.1 L822.0,404.7 L825.7,405.3 L829.4,405.9 L833.1,406.6 L836.7,407.3 L840.2,408.1 L843.8,408.9 L847.3,409.8 L850.7,410.8 L854.1,411.8 L857.5,412.8 L860.8,413.9 L864.0,415.0 Z" fill="url(#pg0)" stroke="#4472c4" stroke-width="0.5" stroke-opacity="0.5"/>
<path d="M780.0,453.5 L864.0,415.0 L867.2,416.2 L870.3,417.5 L873.4,418.7 L876.4,420.1 L879.3,421.5 L882.2,422.9 L884.9,424.4 L887.6,425.9 L890.2,427.5 L892.7,429.1 L895.1,430.8 L897.4,432.5 L899.5,434.3 L901.6,436.1 L903.6,437.9 L905.4,439.8 L907.2,441.7 L908.8,443.7 L910.2,445.6 Z" fill="url(#pg1)" stroke="#ed7d31" stroke-width="0.5" stroke-opacity="0.5"/>
<path d="M780.0,453.5 L910.2,445.6 L911.6,447.6 L912.7,449.6 L913.8,451.7 L914.7,453.8 L915.5,455.9 L916.1,458.0 L916.6,460.1 L916.9,462.3 L917.0,464.5 L917.0,466.7 L916.9,468.9 L916.5,471.1 L916.0,473.3 L915.4,475.6 L914.5,477.8 L913.5,480.1 L912.3,482.3 L910.9,484.5 L909.3,486.7 L907.6,488.9 L905.6,491.1 L903.5,493.3 L901.2,495.4 L898.7,497.5 L896.1,499.6 L893.2,501.6 L890.2,503.6 L887.0,505.5 L883.6,507.4 L880.1,509.3 L876.3,511.0 Z" fill="url(#pg2)" stroke="#a5a5a5" stroke-width="0.5" stroke-opacity="0.5"/>
<path d="M780.0,453.5 L876.3,511.0 L872.4,512.8 L868.3,514.4 L864.1,516.1 L859.7,517.6 L855.1,519.0 L850.5,520.4 L845.6,521.7 L840.7,522.9 L835.7,524.0 L830.5,525.0 L825.2,525.9 L819.9,526.7 L814.5,527.4 L809.0,528.0 L803.5,528.6 L797.9,529.0 L792.3,529.2 L786.6,529.4 L780.9,529.5 L775.3,529.5 L769.6,529.3 L764.0,529.1 L758.4,528.7 Z" fill="url(#pg3)" stroke="#ffc000" stroke-width="0.5" stroke-opacity="0.5"/>
<path d="M780.0,453.5 L758.4,528.7 L752.8,528.2 L747.2,527.6 L741.7,527.0 L736.3,526.2 L731.0,525.3 L725.8,524.3 L720.7,523.2 L715.6,522.0 L710.8,520.7 L706.0,519.4 L701.4,517.9 L696.9,516.4 L692.6,514.8 L688.4,513.1 L684.4,511.4 L680.6,509.6 L677.0,507.7 L673.5,505.8 L670.2,503.8 L667.1,501.8 L664.2,499.7 L661.4,497.6 L658.9,495.5 L656.5,493.3 L654.4,491.1 L652.4,488.9 L650.6,486.6 L649.0,484.4 L647.6,482.1 L646.4,479.8 L645.4,477.6 L644.5,475.3 L643.9,473.0 L643.4,470.7 L643.1,468.5 L643.0,466.2 L643.0,464.0 L643.2,461.8 Z" fill="url(#pg4)" stroke="#5b9bd5" stroke-width="0.5" stroke-opacity="0.5"/>
<path d="M780.0,453.5 L643.2,461.8 L643.5,459.5 L644.1,457.4 L644.7,455.2 L645.6,453.1 L646.6,451.0 L647.7,448.9 L648.9,446.9 L650.3,444.8 L651.9,442.9 L653.5,440.9 L655.3,439.0 L657.2,437.2 L659.2,435.3 L661.3,433.6 L663.5,431.8 L665.9,430.1 L668.3,428.5 L670.8,426.9 L673.5,425.3 Z" fill="url(#pg5)" stroke="#70ad47" stroke-width="0.5" stroke-opacity="0.5"/>
<path d="M780.0,453.5 L673.5,425.3 L676.0,423.9 L678.7,422.5 L681.4,421.1 L684.2,419.8 L687.1,418.5 L690.0,417.3 L693.0,416.1 L696.0,415.0 L699.1,413.9 L702.3,412.9 L705.5,411.9 L708.7,410.9 L712.0,410.0 L715.3,409.2 L718.7,408.3 L722.1,407.6 Z" fill="url(#pg6)" stroke="#264478" stroke-width="0.5" stroke-opacity="0.5"/>
<path d="M780.0,453.5 L722.1,407.6 L725.6,406.9 L729.1,406.2 L732.6,405.5 L736.1,405.0 L739.7,404.4 L743.3,403.9 L746.9,403.5 L750.5,403.1 L754.2,402.7 L757.8,402.4 L761.5,402.2 L765.2,402.0 Z" fill="url(#pg7)" stroke="#9e480e" stroke-width="0.5" stroke-opacity="0.5"/>
<path d="M780.0,453.5 L765.2,402.0 L768.9,401.8 L772.6,401.7 L776.3,401.6 L780.0,401.6 Z" fill="url(#pg8)" stroke="#636363" stroke-width="0.5" stroke-opacity="0.5"/>
<text x="779" y="378" font-size="17.6" font-weight="bold" fill="#f2f2f2" text-anchor="middle" textLength="61" lengthAdjust="spacingAndGlyphs" letter-spacing="0.8" filter="url(#tsh)">Line-1</text>
<rect x="622.0" y="592.3" width="6.2" height="6.2" fill="url(#pg0)"/>
<text x="631.5" y="598.8" font-size="10.8" fill="#d9d9d9" textLength="51.6" lengthAdjust="spacingAndGlyphs">15/5/2017</text>
<rect x="687.1" y="592.3" width="6.2" height="6.2" fill="url(#pg1)"/>
<text x="696.6" y="598.8" font-size="10.8" fill="#d9d9d9" textLength="51.6" lengthAdjust="spacingAndGlyphs">16/5/2017</text>
<rect x="752.2" y="592.3" width="6.2" height="6.2" fill="url(#pg2)"/>
<text x="761.7" y="598.8" font-size="10.8" fill="#d9d9d9" textLength="51.6" lengthAdjust="spacingAndGlyphs">17/5/2017</text>
<rect x="817.3" y="592.3" width="6.2" height="6.2" fill="url(#pg3)"/>
<text x="826.8" y="598.8" font-size="10.8" fill="#d9d9d9" textLength="51.6" lengthAdjust="spacingAndGlyphs">18/5/2017</text>
<rect x="882.4" y="592.3" width="6.2" height="6.2" fill="url(#pg4)"/>
<text x="891.9" y="598.8" font-size="10.8" fill="#d9d9d9" textLength="51.6" lengthAdjust="spacingAndGlyphs">19/5/2017</text>
<rect x="622.0" y="614.7" width="6.2" height="6.2" fill="url(#pg5)"/>
<text x="631.5" y="621.2" font-size="10.8" fill="#d9d9d9" textLength="51.6" lengthAdjust="spacingAndGlyphs">20/5/2017</text>
<rect x="687.1" y="614.7" width="6.2" height="6.2" fill="url(#pg6)"/>
<text x="696.6" y="621.2" font-size="10.8" fill="#d9d9d9" textLength="51.6" lengthAdjust="spacingAndGlyphs">21/5/2017</text>
<rect x="752.2" y="614.7" width="6.2" height="6.2" fill="url(#pg7)"/>
<text x="761.7" y="621.2" font-size="10.8" fill="#d9d9d9" textLength="51.6" lengthAdjust="spacingAndGlyphs">22/5/2017</text>
<rect x="817.3" y="614.7" width="6.2" height="6.2" fill="url(#pg8)"/>
<text x="826.8" y="621.2" font-size="10.8" fill="#d9d9d9" textLength="51.6" lengthAdjust="spacingAndGlyphs">23/5/2017</text>
</svg>
</body></html>
